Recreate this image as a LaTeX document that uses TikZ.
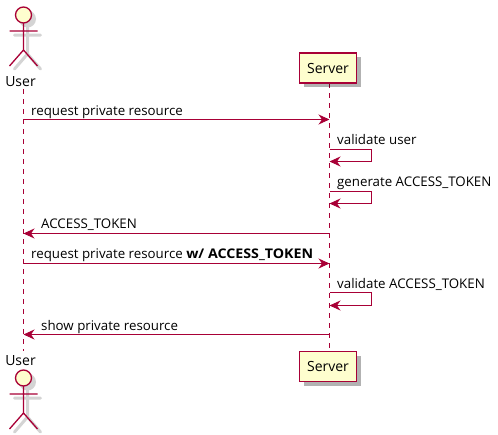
\documentclass[tikz,border=0pt]{standalone}
\usepackage{fontspec}
\setmainfont{Open Sans}[BoldFeatures={FakeStretch=1.07}]
\usetikzlibrary{arrows.meta,shadows}
\definecolor{umlred}{HTML}{A80036}
\definecolor{umlfill}{HTML}{FEFECE}
\definecolor{umlshadow}{HTML}{D4D4D4}
\begin{document}
\begin{tikzpicture}[
    x=1pt, y=-1pt,
    >={Stealth[length=11pt, width=10pt, inset=3.5pt]},
    font=\fontsize{13.3pt}{15pt}\selectfont,
    lifeline/.style={draw=umlred, line width=1pt, dash pattern=on 5pt off 5pt},
    msg/.style={draw=umlred, line width=1pt, ->},
    msglabel/.style={anchor=base west, inner sep=0pt},
    actorlabel/.style={inner sep=0pt, font=\fontsize{14pt}{16pt}\selectfont},
    partbox/.style={rectangle, draw=umlred, line width=1.3pt, fill=umlfill,
        minimum width=57pt, minimum height=30pt, inner sep=0pt,
        font=\fontsize{14pt}{16pt}\selectfont,
        drop shadow={shadow xshift=4pt, shadow yshift=-4pt, fill=black, opacity=0.3}},
    actor/.pic={
        % shadow
        \draw[umlshadow, line width=3pt, line cap=round]
            (4,4) -- (4,39) (-9,20) -- (17,20) (4,39) -- (-9,54) (4,39) -- (17,54);
        \fill[umlshadow] (4,4) circle (8.5);
        % figure
        \draw[umlred, line width=1.3pt, fill=umlfill] (0,0) circle (8);
        \draw[umlred, line width=1.3pt] (0,8) -- (0,35) (-14,16) -- (14,16)
            (0,35) -- (-14,51) (0,35) -- (14,51);
    }
]
    \useasboundingbox (0,0) rectangle (498,434);

    % 1. Lifeline ends
    \coordinate (ut) at (23.5,89);
    \coordinate (ub) at (23.5,351);
    \coordinate (st) at (329.5,83);
    \coordinate (sb) at (329.5,351);
    \draw[lifeline] (ut) -- (ub);
    \draw[lifeline] (st) -- (sb);

    % 2. Actor and participant, top
    \pic at (23.5,15) {actor};
    \node[actorlabel] (usertop) at (20.5,82) {User};
    \node[partbox] (servertop) at (328,68) {Server};

    % 3. Actor and participant, bottom
    \pic at (23.5,378) {actor};
    \node[actorlabel] (userbot) at (20.5,360.5) {User};
    \node[partbox] (serverbot) at (328,366.5) {Server};

    % 4. Messages
    \coordinate (u1) at (23.5,119.5);
    \coordinate (s1) at (329.5,119.5);
    \draw[msg] (u1) -- (s1);
    \node[msglabel] (l1) at (31,115) {request private resource};

    \coordinate (s2a) at (329.5,149.5);
    \coordinate (s2b) at (329.5,161.5);
    \draw[msg] (s2a) -- ++(42,0) |- (s2b);
    \node[msglabel] (l2) at (337,144) {validate user};

    \coordinate (s3a) at (329.5,191.5);
    \coordinate (s3b) at (329.5,203.5);
    \draw[msg] (s3a) -- ++(42,0) |- (s3b);
    \node[msglabel] (l3) at (337,186.5) {generate ACCESS\_TOKEN};

    \coordinate (s4) at (329.5,233.5);
    \coordinate (u4) at (23.5,233.5);
    \draw[msg] (s4) -- (u4);
    \node[msglabel] (l4) at (41,228.5) {ACCESS\_TOKEN};

    \coordinate (u5) at (23.5,263.5);
    \coordinate (s5) at (329.5,263.5);
    \draw[msg] (u5) -- (s5);
    \node[msglabel] (l5) at (31,258.5) {request private resource \textbf{w/ ACCESS\_TOKEN}};

    \coordinate (s6a) at (329.5,292.5);
    \coordinate (s6b) at (329.5,305.5);
    \draw[msg] (s6a) -- ++(42,0) |- (s6b);
    \node[msglabel] (l6) at (337,288) {validate ACCESS\_TOKEN};

    \coordinate (s7) at (329.5,334.5);
    \coordinate (u7) at (23.5,334.5);
    \draw[msg] (s7) -- (u7);
    \node[msglabel] (l7) at (41,330) {show private resource};

\end{tikzpicture}
\end{document}
